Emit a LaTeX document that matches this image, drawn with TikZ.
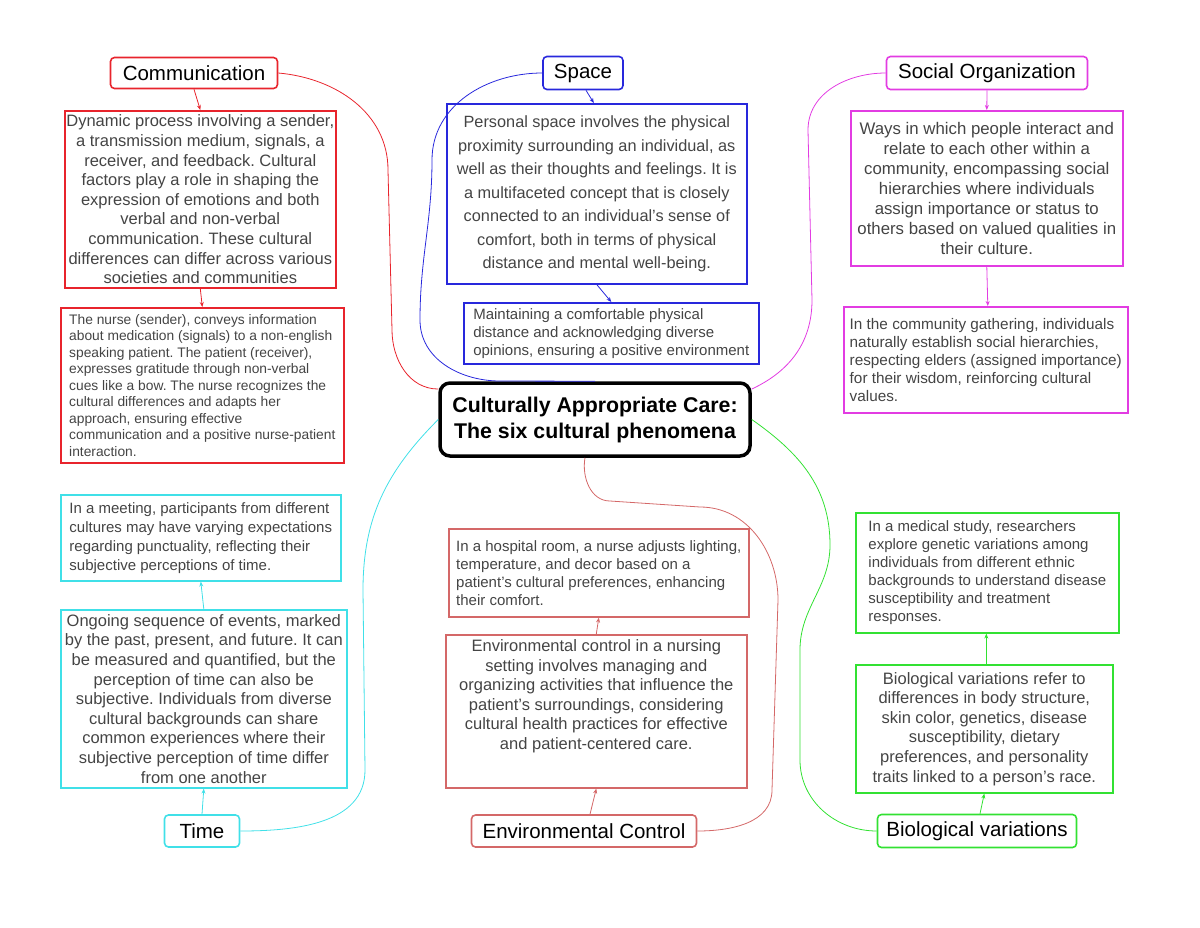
\documentclass[tikz,border=0pt]{standalone}
\usepackage{fontspec}
\setmainfont{Liberation Sans}
\usetikzlibrary{arrows.meta}

\definecolor{commred}{RGB}{232,36,44}
\definecolor{spaceblue}{RGB}{40,40,220}
\definecolor{socmag}{RGB}{226,60,226}
\definecolor{timecyan}{RGB}{64,224,232}
\definecolor{envrose}{RGB}{212,104,104}
\definecolor{biogreen}{RGB}{50,225,50}
\definecolor{bodygray}{RGB}{68,68,68}

\tikzset{
  head/.style={draw, rounded corners=4pt, line width=1.6pt,
    font=\fontsize{20.5}{24}\selectfont, inner sep=0},
  defbox/.style={draw, line width=1.6pt, align=center, anchor=north west,
    text=bodygray, font=\fontsize{16.5}{19.6}\selectfont, inner sep=0},
  exbox/.style={draw, line width=1.6pt, align=left, anchor=north west,
    text=bodygray, font=\fontsize{15}{18}\selectfont, inner sep=0},
  link/.style={line width=0.8pt},
  feed/.style={-{Stealth[length=5pt, width=4pt]}, line width=0.8pt},
}
\frenchspacing

\begin{document}
\begin{tikzpicture}[x=1pt, y=-1pt]
  \useasboundingbox (0,0) rectangle (1200,927);

  \node[draw, line width=3.5pt, rounded corners=10pt,
    minimum width=310pt, minimum height=73pt,
    font=\bfseries\fontsize{21.3}{26}\selectfont, align=center] (care) at (595,419.5)
    {Culturally Appropriate Care:\\The six cultural phenomena};

  % communication
  \node[head, draw=commred, minimum width=167pt, minimum height=31pt] (comm) at (194,73) {Communication};
  \node[defbox, draw=commred, minimum width=271pt, minimum height=177pt] (commdef) at (64,110)
    {Dynamic process involving a sender,\\a transmission medium, signals, a\\receiver, and feedback. Cultural\\factors play a role in shaping the\\expression of emotions and both\\verbal and non-verbal\\communication. These cultural\\differences can differ across various\\societies and communities};
  \node[exbox, draw=commred, minimum width=283pt, minimum height=155pt,
    font=\fontsize{13.8}{16.5}\selectfont] (commex) at (60,307)
    {The nurse (sender), conveys information\\about medication (signals) to a non-english\\speaking patient. The patient (receiver),\\expresses gratitude through non-verbal\\cues like a bow. The nurse recognizes the\\cultural differences and adapts her\\approach, ensuring effective\\communication and a positive nurse-patient\\interaction.};

  % space
  \node[head, draw=spaceblue, minimum width=80pt, minimum height=33pt] (space) at (583,73) {Space};
  \node[defbox, draw=spaceblue, minimum width=300pt, minimum height=180pt,
    font=\fontsize{16.3}{23.5}\selectfont] (spacedef) at (446,103)
    {Personal space involves the physical\\proximity surrounding an individual, as\\well as their thoughts and feelings. It is\\a multifaceted concept that is closely\\connected to an individual's sense of\\comfort, both in terms of physical\\distance and mental well-being.};
  \node[exbox, draw=spaceblue, minimum width=295pt, minimum height=61pt] (spaceex) at (463,302)
    {Maintaining a comfortable physical\\distance and acknowledging diverse\\opinions, ensuring a positive environment};

  % social organization
  \node[head, draw=socmag, minimum width=201pt, minimum height=33pt] (social) at (987,73) {Social Organization};
  \node[defbox, draw=socmag, minimum width=272pt, minimum height=155pt,
    font=\fontsize{16.8}{20}\selectfont] (socialdef) at (850,110)
    {Ways in which people interact and\\relate to each other within a\\community, encompassing social\\hierarchies where individuals\\assign importance or status to\\others based on valued qualities in\\their culture.};
  \node[exbox, draw=socmag, minimum width=284pt, minimum height=106pt,
    font=\fontsize{15.3}{18}\selectfont] (socialex) at (843,306)
    {In the community gathering, individuals\\naturally establish social hierarchies,\\respecting elders (assigned importance)\\for their wisdom, reinforcing cultural\\values.};

  % time
  \node[exbox, draw=timecyan, minimum width=280pt, minimum height=86pt,
    font=\fontsize{15}{19}\selectfont] (timeex) at (60,494)
    {In a meeting, participants from different\\cultures may have varying expectations\\regarding punctuality, reflecting their\\subjective perceptions of time.};
  \node[defbox, draw=timecyan, minimum width=286pt, minimum height=178pt] (timedef) at (60,609)
    {Ongoing sequence of events, marked\\by the past, present, and future. It can\\be measured and quantified, but the\\perception of time can also be\\subjective. Individuals from diverse\\cultural backgrounds can share\\common experiences where their\\subjective perception of time differ\\from one another};
  \node[head, draw=timecyan, minimum width=75pt, minimum height=32pt] (time) at (202,831) {Time};

  % environmental control
  \node[exbox, draw=envrose, minimum width=300pt, minimum height=88pt] (envex) at (448,528)
    {In a hospital room, a nurse adjusts lighting,\\temperature, and decor based on a\\patient's cultural preferences, enhancing\\their comfort.};
  \node[defbox, draw=envrose, minimum width=301pt, minimum height=153pt] (envdef) at (445,634)
    {Environmental control in a nursing\\setting involves managing and\\organizing activities that influence the\\patient's surroundings, considering\\cultural health practices for effective\\and patient-centered care.\\[14pt]};
  \node[head, draw=envrose, minimum width=225pt, minimum height=32pt] (env) at (584,831) {Environmental Control};

  % biological variations
  \node[exbox, draw=biogreen, minimum width=263pt, minimum height=120pt] (bioex) at (855,512)
    {In a medical study, researchers\\explore genetic variations among\\individuals from different ethnic\\backgrounds to understand disease\\susceptibility and treatment\\responses.};
  \node[defbox, draw=biogreen, minimum width=257pt, minimum height=128pt] (biodef) at (855,664)
    {Biological variations refer to\\differences in body structure,\\skin color, genetics, disease\\susceptibility, dietary\\preferences, and personality\\traits linked to a person's race.};
  \node[head, draw=biogreen, minimum width=199pt, minimum height=33pt] (bio) at (977,831) {Biological variations};

  % arrows down the columns
  \draw[feed, commred] (comm.south) -- (commdef.north);
  \draw[feed, commred] (commdef.south) -- (commex.north);
  \draw[feed, spaceblue] ([xshift=3pt]space.south) -- ([xshift=-3pt]spacedef.north);
  \draw[feed, spaceblue] (spacedef.south) -- (spaceex.north);
  \draw[feed, socmag] (social.south) -- (socialdef.north);
  \draw[feed, socmag] (socialdef.south) -- ([xshift=2pt]socialex.north);
  \draw[feed, timecyan] (time.north) -- (timedef.south);
  \draw[feed, timecyan] (timedef.north) -- (timeex.south);
  \draw[feed, envrose] ([xshift=6pt]env.north) -- (envdef.south);
  \draw[feed, envrose] (envdef.north) -- (envex.north |- envex.south);
  \draw[feed, biogreen] ([xshift=3pt]bio.north) -- (biodef.south);
  \draw[feed, biogreen] ([xshift=2pt]biodef.north) -- ([xshift=-1pt]bioex.south);

  % links to the centre
  \draw[link, commred] (comm.east) to[out=-5, in=90] (388,170) -- (392,330)
    to[out=-90, in=180] (care.169);
  \draw[link, spaceblue] (space.west) to[out=180, in=90] (432,160)
    to[out=-90, in=90] (420,320) to[out=-90, in=180] (500,381) -- (care.north);
  \draw[link, socmag] (social.west) to[out=180, in=90] (808,130) -- (812,300)
    to[out=-90, in=25] (care.11);
  \draw[link, timecyan] (time.east) to[out=0, in=-90] (365,770) -- (363,590)
    to[out=90, in=-135] (care.west);
  \draw[link, envrose] (env.east) to[out=0, in=-90] (772,790) -- (778,600)
    to[out=90, in=0] (700,507) -- (610,501) to[out=180, in=-100] ([xshift=-10pt]care.south);
  \draw[link, biogreen] (care.east) to[out=-35, in=90] (830,545)
    to[out=-90, in=90] (800,650) -- (800,760) to[out=-90, in=180] (bio.west);
\end{tikzpicture}
\end{document}
